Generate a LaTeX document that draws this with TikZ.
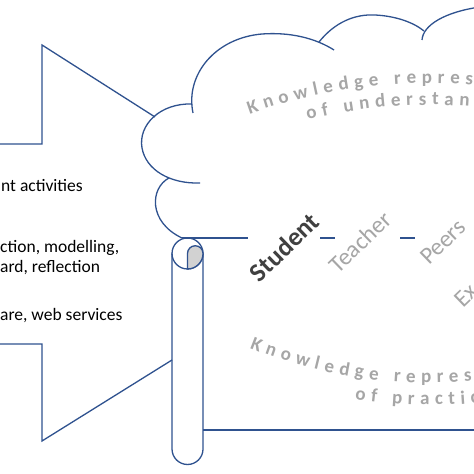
\documentclass[tikz,border=0pt]{standalone}
\usepackage{fontspec}
\setmainfont{Carlito}
\usepackage{tikz}
\usetikzlibrary{calc}
\usetikzlibrary{decorations.text}

\definecolor{outline}{RGB}{47,82,143}
\definecolor{wordgray}{RGB}{166,166,166}
\definecolor{studentgray}{RGB}{64,64,64}
\definecolor{tabgray}{RGB}{210,210,210}

\newcommand{\sidefont}{\fontsize{17.5bp}{21bp}\selectfont}
\newcommand{\rolefont}{\fontsize{24bp}{28bp}\selectfont}
\newcommand{\arcfont}{\fontsize{19bp}{22bp}\selectfont\bfseries}

\begin{document}
\begin{tikzpicture}[x=1bp, y=1bp,
		edge/.style={draw=outline, line width=1.3bp},
		sidetext/.style={font=\sidefont, anchor=base west, inner sep=0pt},
		role/.style={rotate=44, inner sep=0pt, text=wordgray, font=\rolefont},
		arctext/.style={decorate, decoration={text effects along path, text={#1},
			text effects/.cd, text along path,
			characters={text=wordgray, font=\arcfont},
			character widths={inner xsep=2.8bp}}}
		]
		\path[fill=white, use as bounding box] (0,0) rectangle (474,474);

		% arrow on the left
		\draw[edge] (0,330) -- (42,330) -- (42,429) -- (155,357);
		\draw[edge] (0,130) -- (42,130) -- (42,33) -- (172,114);

		% cloud
		\draw[edge] (193,361) .. controls (185,399) and (215,436) .. (262,440) .. controls (290,442) and (315,436) .. (334,424);
		\draw[edge] (319,432) .. controls (335,452) and (355,460) .. (375,459) .. controls (395,458) and (413,452) .. (424,443);
		\draw[edge] (422,434) .. controls (423,449) and (445,462) .. (480,467);
		\draw[edge] (192,370) .. controls (160,371) and (138,349) .. (142,326) .. controls (146,304) and (170,290) .. (200,291);
		\draw[edge] (169,296) .. controls (150,286) and (148,252) .. (182,236);
		\draw[edge] (182,236) -- (248,236);
		\draw[edge] (320,236) -- (335,236);
		\draw[edge] (400,236) -- (415,236);

		% scroll
		\draw[edge] (172,220.5) -- (172,25) arc[start angle=180, end angle=360, radius=15.5bp] -- (203,220.5);
		\draw[edge] (187.5,220.5) circle[radius=15.5bp];
		\draw[edge, fill=tabgray] (187.5,205) -- (187.5,220.5) arc[start angle=180, end angle=0, radius=7.75bp]
			arc[start angle=0, end angle=-90, radius=15.5bp] -- cycle;
		\draw[edge] (203,44) -- (474,44);

		% texts on the left
		\node[sidetext] (act) at (1,282.5) {nt activities};
		\node[sidetext] (model) at (0,221) {ction, modelling,};
		\node[sidetext] (refl) at (0,201) {ard, reflection};
		\node[sidetext] (soft) at (0,153) {are, web services};

		% roles
		\node[role, text=studentgray, font=\fontsize{26bp}{30bp}\selectfont\bfseries] (student) at (284,227) {Student};
		\node[role] (teacher) at (360,232) {Teacher};
		\node[role] (peers) at (443,232) {Peers};
		\node[role, anchor=base west] (ex) at (463,165) {Ex};

		% curved texts
		\begin{scope}
			\arcfont
			\path[arctext={Knowledge repres}] ($(430,-148)+(109.85:539)$) arc[start angle=109.85, end angle=70, radius=539bp];
			\path[arctext={of understand}] ($(430,-148)+(103.99:517)$) arc[start angle=103.99, end angle=70, radius=517bp];
			\path[arctext={Knowledge repres}] ($(430,574)+(247.74:483)$) arc[start angle=247.74, end angle=290, radius=483bp];
			\path[arctext={of practic}] ($(430,574)+(261.12:505)$) arc[start angle=261.12, end angle=290, radius=505bp];
		\end{scope}
	\end{tikzpicture}
\end{document}
